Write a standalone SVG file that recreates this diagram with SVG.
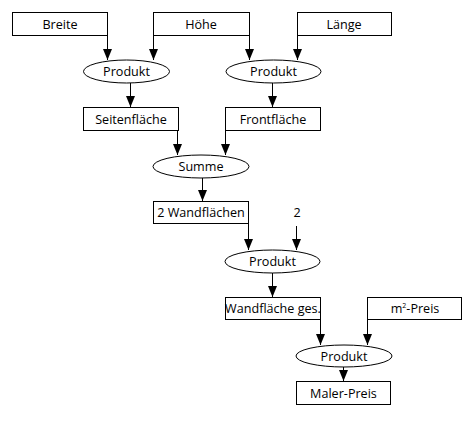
<svg xmlns="http://www.w3.org/2000/svg" width="474" height="426" viewBox="0 0 474 426">
<style>
.b{fill:#fff;stroke:#000;stroke-width:1}
.t{font-family:"Open Sans","Noto Sans",sans-serif;font-size:12.6px;fill:#000;text-anchor:middle}
.c{fill:none;stroke:#000;stroke-width:1;marker-end:url(#ah)}
</style>
<defs>
<marker id="ah" markerUnits="userSpaceOnUse" markerWidth="11" markerHeight="9" refX="11" refY="4.5" orient="auto" viewBox="0 0 11 9">
<path d="M0,0 L11,4.5 L0,9 z" fill="#000"/>
</marker>
</defs>
<rect width="474" height="426" fill="#fff"/>
<g id="connectors">
<path class="c" d="M107.5,35 V60"/>
<path class="c" d="M153.5,35 V60"/>
<path class="c" d="M249.5,35 V60"/>
<path class="c" d="M297.5,35 V60"/>
<path class="c" d="M130.5,83 V107"/>
<path class="c" d="M272.5,83 V107"/>
<path class="c" d="M177.5,130 V155"/>
<path class="c" d="M225.5,130 V155"/>
<path class="c" d="M202.5,178 V201"/>
<path class="c" d="M248.5,223 V250"/>
<path class="c" d="M296.5,226 V250"/>
<path class="c" d="M272.5,273 V297"/>
<path class="c" d="M320.5,319 V345"/>
<path class="c" d="M367.5,319 V345"/>
<path class="c" d="M343.5,367 V381"/>
</g>
<g id="breite"><rect class="b" x="12.5" y="12.5" width="95" height="23"/><text class="t" x="60" y="28.5">Breite</text></g>
<g id="hoehe"><rect class="b" x="153.5" y="12.5" width="96" height="23"/><text class="t" x="201" y="28.5">Höhe</text></g>
<g id="laenge"><rect class="b" x="297.5" y="12.5" width="94" height="23"/><text class="t" x="344" y="28.5">Länge</text></g>
<g id="produkt1"><ellipse class="b" cx="126.5" cy="71.5" rx="43" ry="11.5"/><text class="t" x="126.5" y="76">Produkt</text></g>
<g id="produkt2"><ellipse class="b" cx="273.5" cy="71.5" rx="47.5" ry="11.5"/><text class="t" x="273.5" y="76">Produkt</text></g>
<g id="seitenflaeche"><rect class="b" x="83.5" y="107.5" width="95" height="23"/><text class="t" x="131" y="123.5">Seitenfläche</text></g>
<g id="frontflaeche"><rect class="b" x="225.5" y="107.5" width="95" height="23"/><text class="t" x="273" y="123.5">Frontfläche</text></g>
<g id="summe"><ellipse class="b" cx="201" cy="166.5" rx="48" ry="11.5"/><text class="t" x="201" y="171">Summe</text></g>
<g id="wandflaechen2"><rect class="b" x="153.5" y="201.5" width="95" height="22"/><text class="t" x="201" y="217">2 Wandflächen</text></g>
<g id="zwei"><text class="t" x="297" y="217">2</text></g>
<g id="produkt3"><ellipse class="b" cx="272.5" cy="261.5" rx="47.5" ry="11.5"/><text class="t" x="272.5" y="266">Produkt</text></g>
<g id="wandflaeche_ges"><rect class="b" x="225.5" y="297.5" width="95" height="22"/><text class="t" x="273" y="313">Wandfläche ges.</text></g>
<g id="m2preis"><rect class="b" x="367.5" y="297.5" width="94" height="22"/><text class="t" x="415" y="313">m<tspan font-size="7" dy="-5">2</tspan><tspan dy="5">-Preis</tspan></text></g>
<g id="produkt4"><ellipse class="b" cx="344" cy="356" rx="48" ry="11"/><text class="t" x="344" y="360.5">Produkt</text></g>
<g id="malerpreis"><rect class="b" x="296.5" y="381.5" width="94" height="23"/><text class="t" x="343.5" y="397.5">Maler-Preis</text></g>
</svg>
